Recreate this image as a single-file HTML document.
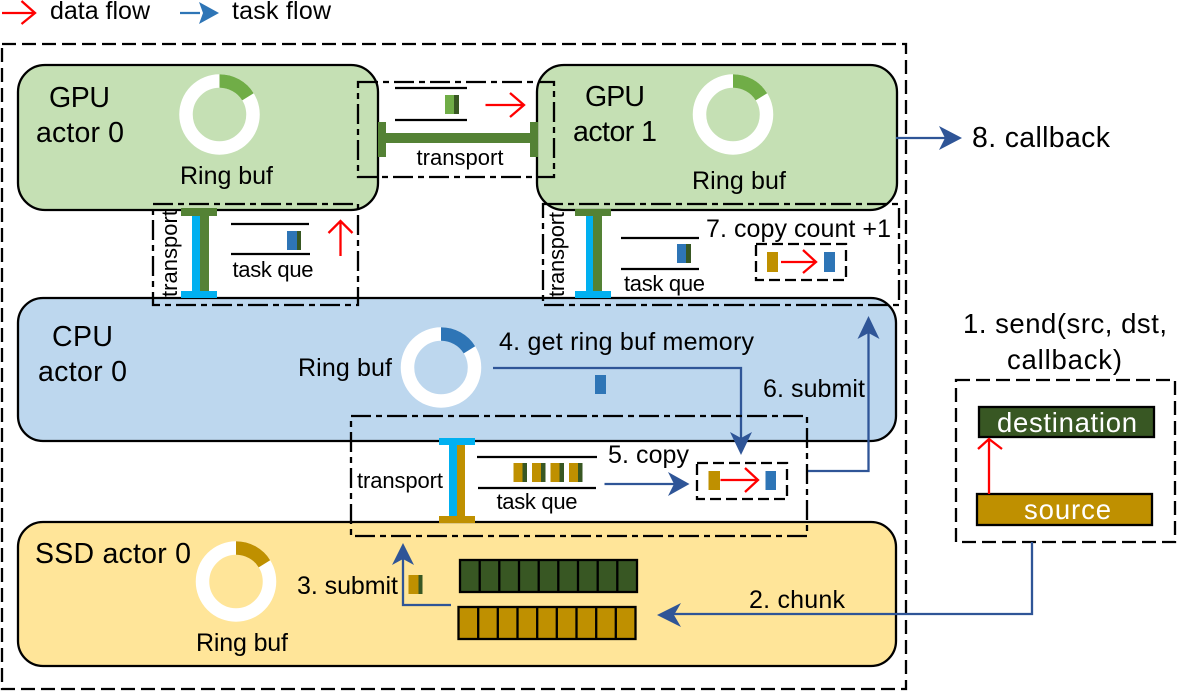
<!DOCTYPE html>
<html><head><meta charset="utf-8"><style>
html,body{margin:0;padding:0;background:#fff;width:1177px;height:692px;overflow:hidden}
svg{display:block;filter:blur(0.35px)}
text{font-family:"Liberation Sans",sans-serif;fill:#000;font-size:25px}
.a{font-size:28.500px}.m{font-size:27.500px}.s{font-size:22px}
.dd{fill:none;stroke:#000;stroke-width:2.300;stroke-dasharray:20 5 6 5}
.d{fill:none;stroke:#000;stroke-width:2.300;stroke-dasharray:14 6}
.ds{fill:none;stroke:#000;stroke-width:2.300;stroke-dasharray:11 5}
.r{fill:none;stroke:#f00;stroke-width:2.300}
.b{fill:none;stroke:#2f5597;stroke-width:2.300}
.h{fill:#2f5597}
.l{stroke:#000;stroke-width:2.300}
</style></head><body>
<svg width="1177" height="692" viewBox="0 0 1177 692" xmlns="http://www.w3.org/2000/svg">
<rect width="1177" height="692" fill="#fff"/>

<!-- legend -->
<path class="r" d="M2 13H35M21.500 1L35 13L21.500 24"/>
<text x="50" y="19" textLength="100">data flow</text>
<path d="M180 13H200" stroke="#2e75b6" stroke-width="2.300" fill="none"/>
<polygon points="219,13 199,2 203,13 199,24" fill="#2e75b6"/>
<text x="232" y="19" textLength="99">task flow</text>

<!-- outer -->
<rect class="d" x="2" y="44" width="904" height="645"/>

<!-- actors -->
<rect x="18" y="65" width="360" height="145" rx="27" fill="#c5e0b4" stroke="#000" stroke-width="2.300"/>
<rect x="537" y="65" width="360" height="145" rx="27" fill="#c5e0b4" stroke="#000" stroke-width="2.300"/>
<rect x="18" y="298" width="878" height="143" rx="25" fill="#bdd7ee" stroke="#000" stroke-width="2.300"/>
<rect x="18" y="522" width="878" height="144" rx="25" fill="#ffe599" stroke="#000" stroke-width="2.300"/>

<!-- rings -->
<circle cx="219.500" cy="114.500" r="33.500" fill="none" stroke="#fff" stroke-width="13.500"/>
<circle cx="219.500" cy="114.500" r="33.500" fill="none" stroke="#70ad47" stroke-width="13.500" stroke-dasharray="33.900 300" transform="rotate(-90 219.500 114.500)"/>
<circle cx="733" cy="114.500" r="33.500" fill="none" stroke="#fff" stroke-width="13.500"/>
<circle cx="733" cy="114.500" r="33.500" fill="none" stroke="#70ad47" stroke-width="13.500" stroke-dasharray="33.900 300" transform="rotate(-90 733 114.500)"/>
<circle cx="441" cy="367.500" r="33.500" fill="none" stroke="#fff" stroke-width="13.500"/>
<circle cx="441" cy="367.500" r="33.500" fill="none" stroke="#2e75b6" stroke-width="13.500" stroke-dasharray="33.900 300" transform="rotate(-90 441 367.500)"/>
<circle cx="236" cy="581.500" r="33.500" fill="none" stroke="#fff" stroke-width="13.500"/>
<circle cx="236" cy="581.500" r="33.500" fill="none" stroke="#bf9000" stroke-width="13.500" stroke-dasharray="33.900 300" transform="rotate(-90 236 581.500)"/>

<!-- actor labels -->
<text class="a" x="49" y="107" textLength="61">GPU</text>
<text class="a" x="36" y="142" textLength="88">actor 0</text>
<text x="180" y="184" textLength="93">Ring buf</text>
<text class="a" x="585" y="106" textLength="60">GPU</text>
<text class="a" x="573" y="141" textLength="84">actor 1</text>
<text x="692" y="189" textLength="94">Ring buf</text>
<text class="a" x="52" y="346" textLength="61">CPU</text>
<text class="a" x="38" y="381" textLength="89">actor 0</text>
<text x="298" y="376" textLength="94">Ring buf</text>
<text class="a" x="35" y="563" textLength="156">SSD actor 0</text>
<text x="196" y="651" textLength="92">Ring buf</text>

<!-- top transport -->
<path class="l" d="M395 88H467M395 120H467"/>
<rect x="445" y="95" width="9" height="19" fill="#70ad47"/><rect x="454" y="95" width="5" height="19" fill="#385723"/>
<path class="r" d="M485.500 105H524M510 93L524 105L510 117"/>
<rect x="378" y="133" width="160" height="10" fill="#548235"/>
<rect x="378" y="122" width="8" height="35" fill="#548235"/>
<rect x="530" y="122" width="8" height="35" fill="#548235"/>
<text class="s" x="416.500" y="165" textLength="87">transport</text>
<rect class="dd" x="358" y="82" width="196" height="95"/>

<!-- left vertical transport -->
<rect x="192" y="214" width="8" height="78" fill="#00b0f0"/><rect x="200" y="214" width="9" height="78" fill="#548235"/>
<rect x="181" y="208" width="36" height="8" fill="#548235"/>
<rect x="181" y="291" width="36" height="7" fill="#00b0f0"/>
<path class="l" d="M231 224H309M231 254H310"/>
<rect x="287" y="231" width="10" height="19" fill="#2e75b6"/><rect x="297" y="231" width="4" height="19" fill="#385723"/>
<text class="s" x="232.500" y="277" textLength="81">task que</text>
<path class="r" d="M340.500 256V221M328.500 233L340.500 221L352.500 233"/>
<text class="s" x="0" y="0" textLength="87" transform="translate(177 297) rotate(-90)">transport</text>
<rect class="dd" x="153" y="204" width="205" height="101"/>

<!-- right vertical transport -->
<rect x="586" y="214" width="7" height="78" fill="#00b0f0"/><rect x="593" y="214" width="9" height="78" fill="#548235"/>
<rect x="575" y="209" width="36" height="7" fill="#548235"/>
<rect x="575" y="291" width="36" height="7" fill="#00b0f0"/>
<path class="l" d="M621 238H699M621 269H699"/>
<rect x="677" y="244" width="9" height="19" fill="#2e75b6"/><rect x="686" y="244" width="5" height="19" fill="#385723"/>
<text class="s" x="624" y="291" textLength="81">task que</text>
<text x="706" y="237" textLength="185">7. copy count +1</text>
<text class="s" x="0" y="0" textLength="85" transform="translate(564 297) rotate(-90)">transport</text>
<rect class="ds" x="756" y="244" width="90" height="36"/>
<rect x="767" y="252" width="11" height="20" fill="#bf9000"/>
<rect x="824" y="252" width="11" height="20" fill="#2e75b6"/>
<path class="r" d="M781 262H816M803 250L816 262L803 273"/>
<rect class="dd" x="543" y="204" width="356" height="101"/>

<!-- CPU annotations -->
<text x="499" y="350" textLength="255">4. get ring buf memory</text>
<path class="b" d="M493 368H741V440"/>
<polygon class="h" points="741,455 730,432 741,438 752,432"/>
<rect x="595" y="375" width="11" height="19" fill="#2e75b6"/>
<text x="763" y="397" textLength="102">6. submit</text>
<path class="b" d="M807 471H868.500V332"/>
<polygon class="h" points="868.500,316 857.500,339 868.500,333 879.500,339"/>

<!-- CPU-SSD transport -->
<rect x="449" y="443" width="8" height="75" fill="#00b0f0"/><rect x="457" y="443" width="8" height="75" fill="#bf9000"/>
<rect x="439" y="438" width="36" height="7" fill="#00b0f0"/>
<rect x="439" y="516" width="36" height="7" fill="#bf9000"/>
<text class="s" x="357" y="488" textLength="86">transport</text>
<path class="l" d="M477 457H597M478 488H596"/>
<g fill="#bf9000">
<rect x="513.500" y="463" width="9" height="19"/><rect x="532" y="463" width="9" height="19"/><rect x="550.500" y="463" width="9" height="19"/><rect x="569" y="463" width="9" height="19"/>
</g>
<g fill="#385723">
<rect x="522.500" y="463" width="4.500" height="19"/><rect x="541" y="463" width="4.500" height="19"/><rect x="559.500" y="463" width="4.500" height="19"/><rect x="578" y="463" width="4.500" height="19"/>
</g>
<text class="s" x="496.500" y="509" textLength="81">task que</text>
<text x="608" y="463" textLength="81">5. copy</text>
<path class="b" d="M604.500 484H674"/>
<polygon class="h" points="689.500,484 668,472 674,484 668,496"/>
<rect class="ds" x="697" y="463" width="90" height="36"/>
<rect x="708.500" y="471" width="11.500" height="19" fill="#bf9000"/>
<rect x="765.500" y="471" width="10.500" height="19" fill="#2e75b6"/>
<path class="r" d="M720.500 480H758M745 468L758 480L745 492"/>
<rect class="dd" x="351" y="416" width="456" height="120"/>

<!-- SSD annotations -->
<text x="297" y="594" textLength="101">3. submit</text>
<rect x="408.500" y="575" width="10" height="19" fill="#bf9000"/><rect x="418.500" y="575" width="4" height="19" fill="#385723"/>
<path class="b" d="M451 605H403V558"/>
<polygon class="h" points="403,543 392,565 403,559 414,565"/>
<g stroke="#000" stroke-width="2.300">
<rect x="460" y="560" width="177" height="32" fill="#385723"/>
<path d="M479.700 560V592M499.300 560V592M519 560V592M538.700 560V592M558.300 560V592M578 560V592M597.700 560V592M617.300 560V592"/>
<rect x="458.500" y="607" width="177" height="32" fill="#bf9000"/>
<path d="M478.200 607V639M497.800 607V639M517.500 607V639M537.200 607V639M556.800 607V639M576.500 607V639M596.200 607V639M615.800 607V639"/>
</g>
<text x="749" y="608" textLength="96">2. chunk</text>

<!-- right side -->
<path class="b" d="M896 138H945"/>
<polygon class="h" points="962,138 939,126 945,138 939,150"/>
<text class="a" x="972" y="147" textLength="138">8. callback</text>
<text class="m" x="963" y="333" textLength="204">1. send(src, dst,</text>
<text class="m" x="1007" y="369" textLength="115">callback)</text>
<rect class="d" x="956" y="380" width="219" height="162"/>
<rect x="979" y="407" width="175" height="30" fill="#385723" stroke="#000" stroke-width="2.300"/>
<text class="m" x="997" y="432" textLength="140" style="fill:#fff">destination</text>
<rect x="977" y="494" width="175" height="31" fill="#bf9000" stroke="#000" stroke-width="2.300"/>
<text class="m" x="1024" y="519" textLength="87" style="fill:#fff">source</text>
<path class="r" d="M989 494V439M978 449L989 439L1002 449"/>
<path class="b" d="M1032 542V614H672"/>
<polygon class="h" points="657,615 681,603 674,615 681,627"/>
</svg>
</body></html>
